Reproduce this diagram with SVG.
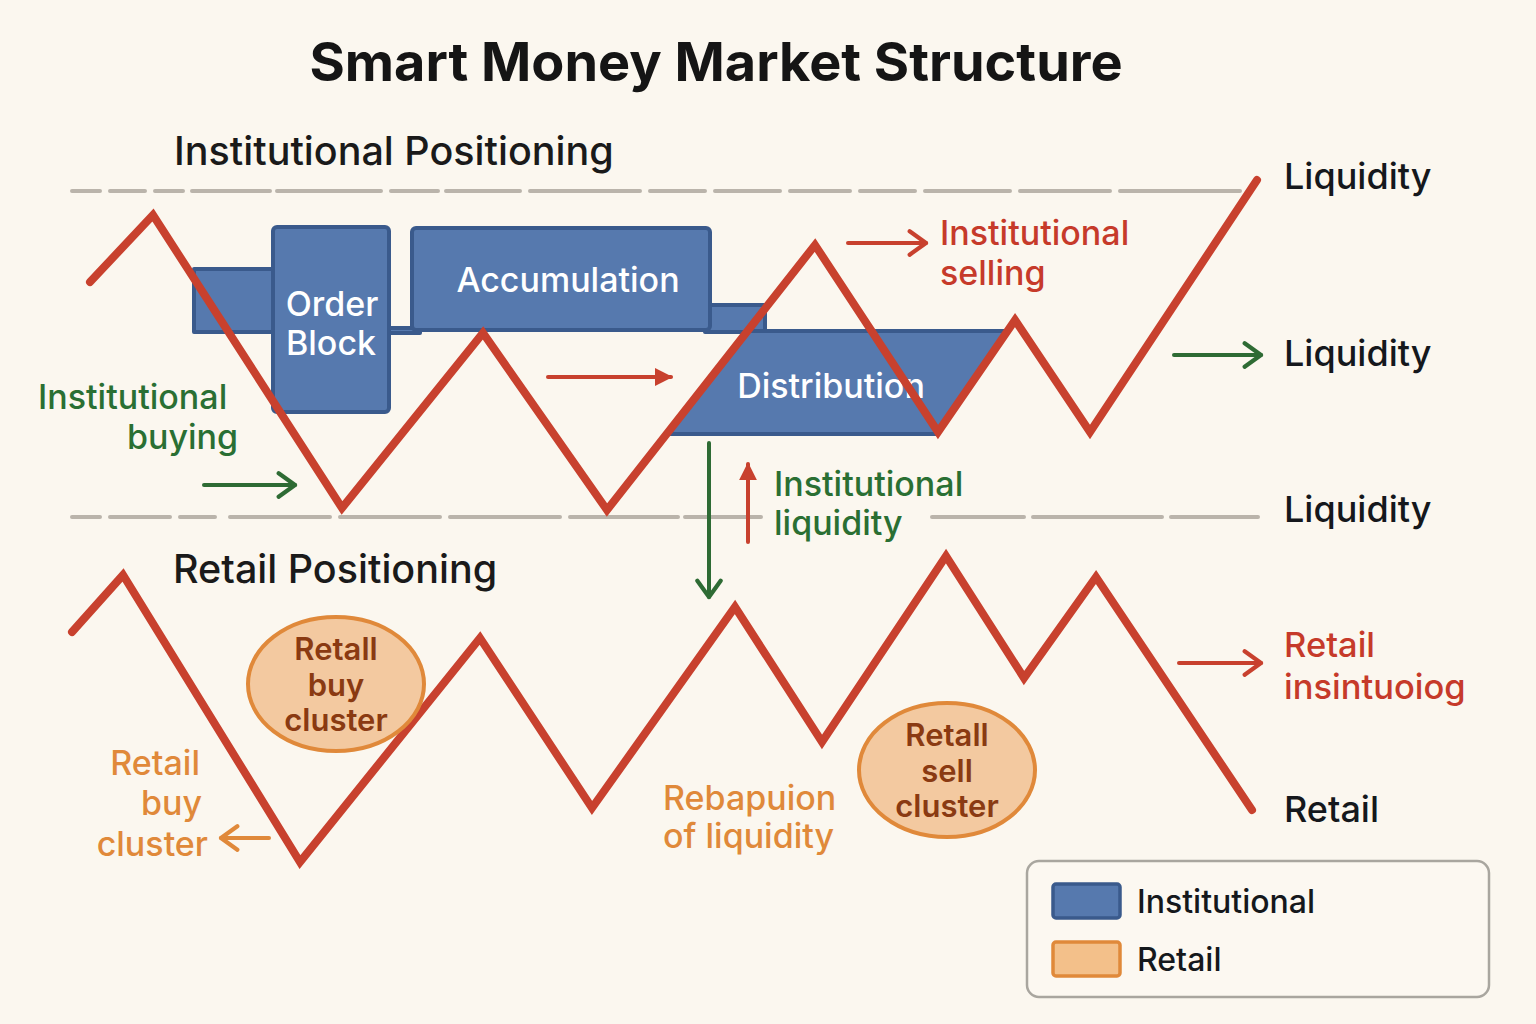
<svg xmlns="http://www.w3.org/2000/svg" width="1536" height="1024" viewBox="0 0 1536 1024">
<style>
text{font-family:Inter,"Noto Sans","Liberation Sans",sans-serif}
.title{font-size:54px;font-weight:700;fill:#151515}
.head{font-size:39.5px;font-weight:500;fill:#1a1a1a}
.blk{font-size:36px;font-weight:500;fill:#15181c}
.box{fill:#5679AE;stroke:#3A5A8C;stroke-width:4;stroke-linejoin:round}
.wt{font-size:34px;font-weight:500;fill:#ffffff}
.grn{font-size:34px;font-weight:500;fill:#2A6F33}
.red{font-size:34px;font-weight:500;fill:#C63A2A}
.org{font-size:34px;font-weight:500;fill:#E0893A}
.brn{font-size:31px;font-weight:600;fill:#8A3A12}
.ell{fill:#F3C9A0;stroke:#E0893A;stroke-width:4}
.price{fill:none;stroke:#C8412E;stroke-width:8;stroke-linejoin:miter;stroke-linecap:round}
.dash{fill:none;stroke:#BAB4AB;stroke-width:4;stroke-linecap:round}
.ag{fill:none;stroke:#2E6B34;stroke-width:4;stroke-linecap:round}
.ar{fill:none;stroke:#C8412E;stroke-width:4;stroke-linecap:round}
.ao{fill:none;stroke:#E0893A;stroke-width:4;stroke-linecap:round}
</style>
<defs>
<marker id="chevG" viewBox="0 0 12 12" refX="10" refY="6" markerWidth="7" markerHeight="7" orient="auto" markerUnits="strokeWidth"><path d="M3,1 L10,6 L3,11" fill="none" stroke="#2E6B34" stroke-width="1.8" stroke-linecap="round" stroke-linejoin="round"/></marker>
<marker id="chevR" viewBox="0 0 12 12" refX="10" refY="6" markerWidth="7" markerHeight="7" orient="auto" markerUnits="strokeWidth"><path d="M3,1 L10,6 L3,11" fill="none" stroke="#C8412E" stroke-width="1.8" stroke-linecap="round" stroke-linejoin="round"/></marker>
<marker id="chevO" viewBox="0 0 12 12" refX="10" refY="6" markerWidth="7" markerHeight="7" orient="auto" markerUnits="strokeWidth"><path d="M3,1 L10,6 L3,11" fill="none" stroke="#E0893A" stroke-width="1.8" stroke-linecap="round" stroke-linejoin="round"/></marker>
<marker id="triR" viewBox="0 0 10 10" refX="9" refY="5" markerWidth="4.5" markerHeight="4.5" orient="auto" markerUnits="strokeWidth"><path d="M0,0 L10,5 L0,10 Z" fill="#C8412E"/></marker>
</defs>
<rect width="1536" height="1024" fill="#FBF7EF"/>
<text class="title" x="716" y="81" text-anchor="middle">Smart Money Market Structure</text>
<text class="head" x="174" y="165">Institutional Positioning</text>
<text class="head" x="173" y="583">Retail Positioning</text>
<g id="guides">
<path class="dash" d="M72,191H100 M110,191H145 M155,191H183 M192,191H270 M277,191H381 M391,191H438 M446,191H520 M530,191H640 M650,191H705 M715,191H780 M790,191H850 M860,191H915 M925,191H1010 M1020,191H1110 M1120,191H1240"/>
<path class="dash" d="M72,517H100 M110,517H170 M180,517H215 M230,517H330 M340,517H440 M450,517H560 M570,517H678 M685,517H761 M932,517H1024 M1033,517H1162 M1171,517H1258"/>
</g>
<g id="institutional-blocks">
<rect class="box" x="194" y="269" width="86" height="63"/>
<rect class="box" x="385" y="328" width="35" height="5"/>
<rect class="box" x="705" y="305" width="60" height="27"/>
<g id="order-block"><rect class="box" x="273" y="227" width="116" height="185" rx="4"/><text class="wt" x="332" y="316" text-anchor="middle">Order</text><text class="wt" x="331" y="355" text-anchor="middle">Block</text></g>
<g id="accumulation"><rect class="box" x="412" y="228" width="298" height="102" rx="4"/><text class="wt" x="568" y="292" text-anchor="middle">Accumulation</text></g>
<g id="distribution"><path class="box" d="M748,331 L1008,331 L938,434 L666,434 Z"/><text class="wt" x="831" y="398" text-anchor="middle">Distribution</text></g>
</g>
<g id="price-paths">
<polyline class="price" points="90,282 153,215 342,508 483,333 607,510 815,245 938,432 1015,320 1090,432 1257,180"/>
<polyline class="price" points="72,632 123,575 300,862 480,638 592,808 735,607 822,742 946,556 1024,678 1096,577 1252,810"/>
</g>
<g id="retail-buy-cluster"><ellipse class="ell" cx="336" cy="684" rx="88" ry="67"/><text class="brn" x="336" y="660" text-anchor="middle">Retall</text><text class="brn" x="336" y="696" text-anchor="middle">buy</text><text class="brn" x="336" y="731" text-anchor="middle">cluster</text></g>
<g id="retail-sell-cluster"><ellipse class="ell" cx="947" cy="770" rx="88" ry="67"/><text class="brn" x="947" y="746" text-anchor="middle">Retall</text><text class="brn" x="947" y="782" text-anchor="middle">sell</text><text class="brn" x="947" y="817" text-anchor="middle">cluster</text></g>
<g id="connectors">
<line class="ag" x1="204" y1="485" x2="295" y2="485" marker-end="url(#chevG)"/>
<line class="ag" x1="1174" y1="355" x2="1261" y2="355" marker-end="url(#chevG)"/>
<line class="ag" x1="709" y1="443" x2="709" y2="597" marker-end="url(#chevG)"/>
<line class="ar" x1="548" y1="377" x2="671" y2="377" marker-end="url(#triR)"/>
<line class="ar" x1="848" y1="243" x2="926" y2="243" marker-end="url(#chevR)"/>
<line class="ar" x1="748" y1="542" x2="748" y2="464" marker-end="url(#triR)"/>
<line class="ar" x1="1179" y1="663" x2="1261" y2="663" marker-end="url(#chevR)"/>
<line class="ao" x1="269" y1="838" x2="221" y2="838" marker-end="url(#chevO)"/>
</g>
<g id="labels">
<text class="grn" x="38" y="409">Institutional</text>
<text class="grn" x="127" y="449">buying</text>
<text class="red" x="940" y="245">Institutional</text>
<text class="red" x="940" y="285">selling</text>
<text class="grn" x="774" y="496">Institutional</text>
<text class="grn" x="774" y="535">liquidity</text>
<text class="blk" x="1284" y="189">Liquidity</text>
<text class="blk" x="1284" y="366">Liquidity</text>
<text class="blk" x="1284" y="522">Liquidity</text>
<text class="red" x="1284" y="657" style="font-size:34.5px">Retail</text>
<text class="red" x="1284" y="699" style="font-size:34.5px">insintuoiog</text>
<text class="blk" x="1284" y="822">Retail</text>
<text class="org" x="200" y="775" text-anchor="end">Retail</text>
<text class="org" x="202" y="815" text-anchor="end">buy</text>
<text class="org" x="208" y="856" text-anchor="end">cluster</text>
<text class="org" x="663" y="810">Rebapuion</text>
<text class="org" x="663" y="848">of liquidity</text>
</g>
<g id="legend">
<rect x="1027" y="861" width="462" height="136" rx="12" fill="#FCF8F1" stroke="#A9A69F" stroke-width="2.5"/>
<rect x="1053" y="884" width="67" height="34" rx="3" fill="#5679AE" stroke="#3A5A8C" stroke-width="3.5"/>
<rect x="1053" y="942" width="67" height="34" rx="3" fill="#F3C08A" stroke="#E0893A" stroke-width="3.5"/>
<text class="blk" x="1137" y="913" style="font-size:32px">Institutional</text>
<text class="blk" x="1137" y="971" style="font-size:32px">Retail</text>
</g>
</svg>
